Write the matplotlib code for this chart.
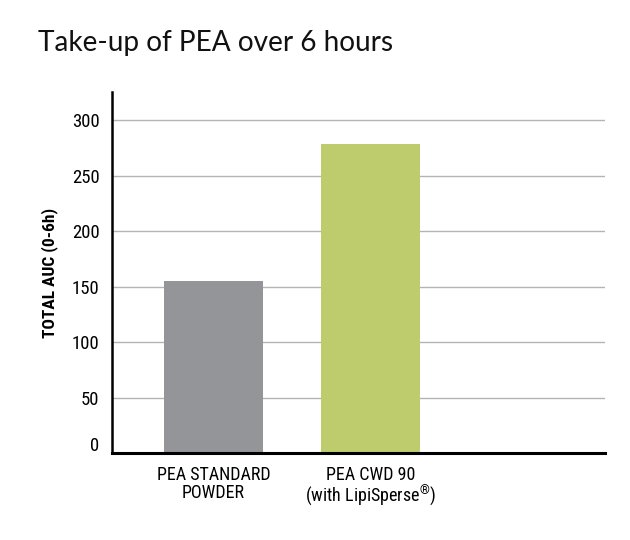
import matplotlib
matplotlib.use("Agg")
import matplotlib.pyplot as plt
import matplotlib.transforms as mtransforms
from matplotlib import font_manager

# data
categories = ["PEA STANDARD\nPOWDER", "PEA CWD 90\n(with LipiSperse$^{\\mathregular{®}}$)"]
auc_values = [155, 278]
bar_colors = ["#939598", "#bfcc6e"]
y_ticks = [0, 50, 100, 150, 200, 250, 300]

# a condensed face, closest to the original's narrow sans
names = {f.name for f in font_manager.fontManager.ttflist}
cond_name = "DejaVu Sans"
for n in ["Liberation Sans Narrow", "Roboto Condensed", "DejaVu Sans Condensed"]:
    if n in names:
        cond_name = n
        break
cond = [cond_name, "DejaVu Sans"]

fig = plt.figure(figsize=(6.3, 5.4), dpi=100)
ax = fig.add_axes([0.1778, 0.1606, 0.7825, 0.6696])

x = list(range(len(categories)))
ax.bar(x, auc_values, width=0.628, color=bar_colors, zorder=3)

ax.set_xlim(-0.647, 2.492)
ax.set_ylim(0, 325.5)
ax.set_yticks(y_ticks)
ax.set_yticklabels([str(t) for t in y_ticks], family=cond, fontstretch="condensed",
                   fontsize=13.5)
ax.set_xticks(x)
ax.set_xticklabels(categories, family=cond, fontstretch="condensed", fontsize=13,
                   linespacing=1.0)
ax.tick_params(axis="both", length=0, pad=9)
ax.tick_params(axis="x", pad=9)

# the "0" label sits a bit above the axis line in the original
lbl0 = ax.get_yticklabels()[0]
lbl0.set_transform(lbl0.get_transform() +
                   mtransforms.ScaledTranslation(0, 9 / 100, fig.dpi_scale_trans))

ax.grid(axis="y", color="#b4b4b4", linewidth=1, zorder=0)
for t in ax.get_ygridlines()[:1]:
    t.set_visible(False)

for side in ["top", "right"]:
    ax.spines[side].set_visible(False)
ax.spines["left"].set_linewidth(1.8)
ax.spines["bottom"].set_linewidth(2.2)
ax.spines["left"].set_zorder(4)
ax.spines["bottom"].set_zorder(4)

ax.set_ylabel("TOTAL AUC (0-6h)", family=cond, fontstretch="condensed", fontsize=12.5,
              fontweight="bold", labelpad=10)

fig.text(0.06, 0.905, "Take-up of PEA over 6 hours", family=["Lato", "DejaVu Sans"],
         fontsize=20.2, color="#111111")

fig.savefig("out.png", dpi=100)
